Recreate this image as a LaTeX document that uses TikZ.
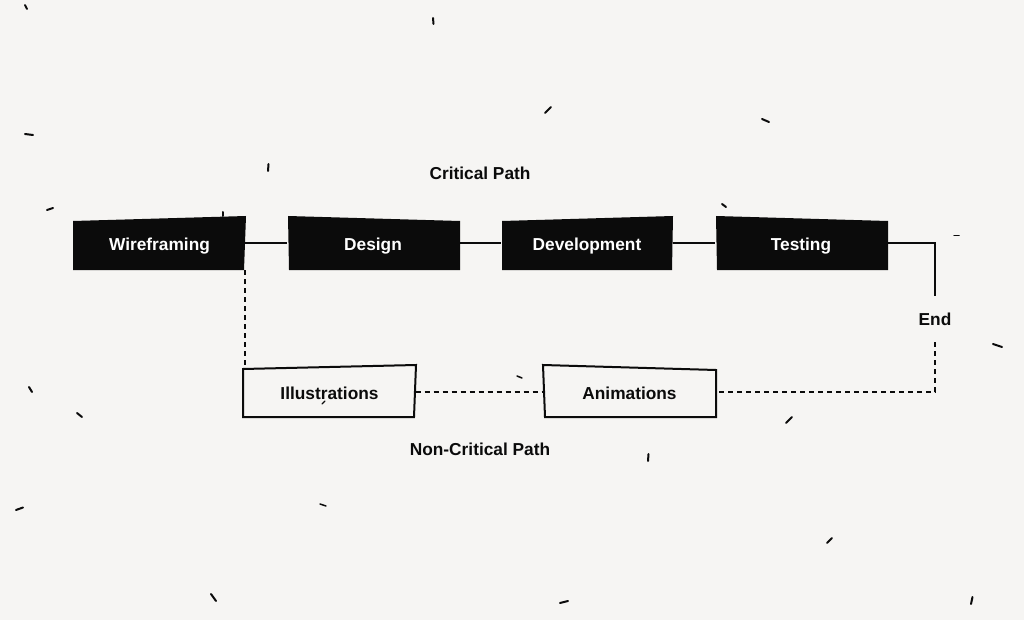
\documentclass[tikz,border=0pt]{standalone}
\usepackage{fontspec}
\setmainfont{Liberation Sans}
\definecolor{bg}{HTML}{F6F5F3}
\definecolor{ink}{HTML}{0B0B0B}
\begin{document}
\begin{tikzpicture}[x=1pt,y=-1pt,
  lbl/.style={font=\bfseries\fontsize{17.3}{19}\selectfont, text=ink, anchor=base, inner sep=0pt},
  boxarea/.style={draw=none, inner sep=0pt, text depth=0pt, font=\bfseries\fontsize{17.3}{19}\selectfont},
  solidbox/.style={fill=ink, draw=none},
  openbox/.style={draw=ink, line width=2pt, line join=miter},
  conn/.style={draw=ink, line width=1.6pt},
  dconn/.style={draw=ink, line width=1.6pt, dash pattern=on 5pt off 4pt},
  tick/.style={draw=ink, line width=2pt, line cap=round}]
\fill[bg] (0,0) rectangle (1024,620);
\useasboundingbox (0,0) rectangle (1024,620);

% critical path boxes (shapes)
\path[solidbox] (73,221) -- (246,216) -- (244,270) -- (73,270) -- cycle;
\path[solidbox] (288,216) -- (460,221) -- (460,270) -- (289,270) -- cycle;
\path[solidbox] (502,221) -- (673,216) -- (672,270) -- (502,270) -- cycle;
\path[solidbox] (716,216) -- (888,221) -- (888,270) -- (717,270) -- cycle;

% non-critical path boxes (shapes)
\path[openbox, fill=bg] (243,369) -- (416,365) -- (414,417) -- (243,417) -- cycle;
\path[openbox, fill=bg] (543,365) -- (716,370) -- (716,417) -- (545,417) -- cycle;

% named nodes carrying texts
\node[boxarea, text=white, text height=16pt, minimum width=171pt, minimum height=54pt] (wf) at (159.5,243) {Wireframing};
\node[boxarea, text=white, text height=16pt, minimum width=172pt, minimum height=54pt] (de) at (373,243) {Design};
\node[boxarea, text=white, text height=16pt, minimum width=171pt, minimum height=54pt] (dv) at (587,243) {Development};
\node[boxarea, text=white, text height=16pt, minimum width=172pt, minimum height=54pt] (te) at (801,243) {Testing};
\node[boxarea, text=ink, text height=14pt, minimum width=172pt, minimum height=50pt] (il) at (329.5,392) {Illustrations};
\node[boxarea, text=ink, text height=14pt, minimum width=173pt, minimum height=50pt] (an) at (629.5,392) {Animations};
\node[boxarea, text=ink, text height=12pt, minimum width=40pt, minimum height=46pt] (en) at (935,319) {End};

\node[lbl] (cp) at (480,180) {Critical Path};
\node[lbl] (ncp) at (480,455) {Non-Critical Path};

% connectors
\draw[conn] (wf.east) -- (de.west);
\draw[conn] (de.east) -- (dv.west);
\draw[conn] (dv.east) -- (te.west);
\draw[conn] (te.east) -| (en.north);
\draw[dconn] (wf.south east) -- (wf.south east |- il.north);
\draw[dconn] (il.east) -- (an.west);
\draw[dconn] (en.south) |- (an.east);

% scattered ticks
\draw[tick] (25,5) -- (27,9);
\draw[tick] (433,18) -- (433.5,24);
\draw[tick] (545,113) -- (551,107);
\draw[tick] (762,119) -- (769,122);
\draw[tick] (25,134) -- (33,135);
\draw[tick] (268.5,164) -- (268,171);
\draw[tick] (47,210) -- (53,208);
\draw[tick] (223,212) -- (223,216);
\draw[tick] (722,204) -- (726,207);
\draw[tick, line width=1.5pt] (954,235.5) -- (959,235.5);
\draw[tick] (993,344) -- (1002,347);
\draw[tick] (29,387) -- (32,392);
\draw[tick] (77,413) -- (82,417);
\draw[tick] (16,510) -- (23,507.5);
\draw[tick, line width=1.3pt] (322,404) -- (325,401);
\draw[tick, line width=1.5pt] (517,376) -- (522,378);
\draw[tick] (786,423) -- (792,417);
\draw[tick] (648,461) -- (648.5,454);
\draw[tick] (827,543) -- (832,538);
\draw[tick] (971,604) -- (972.5,597);
\draw[tick, line width=1.5pt] (320,504) -- (326,506);
\draw[tick] (211,594) -- (216,601);
\draw[tick] (560,603) -- (568,601);
\end{tikzpicture}
\end{document}
